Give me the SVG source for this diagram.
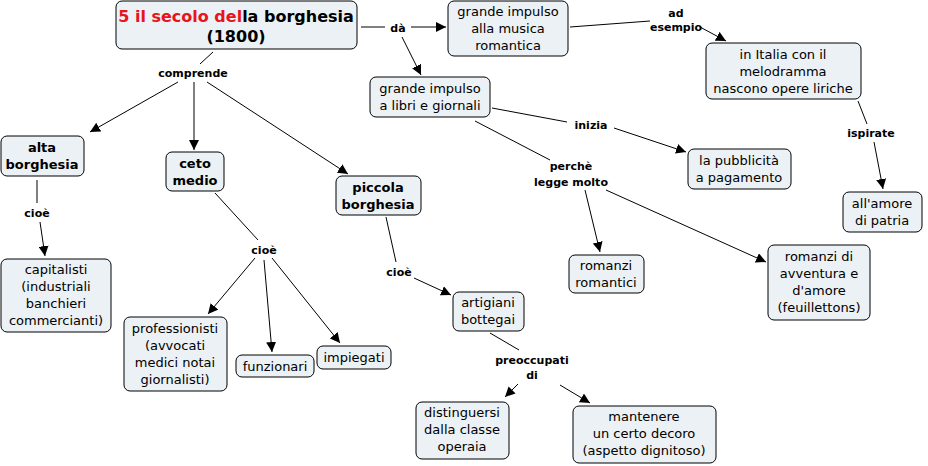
<svg xmlns="http://www.w3.org/2000/svg" width="928" height="466" viewBox="0 0 928 466">
<style>
.n rect{fill:#ebf1f4;stroke:#000;stroke-width:1}
text{font-family:"DejaVu Sans",Verdana,sans-serif;font-size:13px;text-anchor:middle;fill:#000}
.b{font-weight:bold}
.l{font-weight:bold;font-size:11px}
.c line{stroke:#000;stroke-width:1}
</style>
<defs><marker id="a" viewBox="0 0 10 10" refX="10" refY="5" markerWidth="10" markerHeight="10" markerUnits="userSpaceOnUse" orient="auto"><path d="M0,0L10,5L0,10z"/></marker></defs>
<g class="c">
<line x1="361" y1="27" x2="385" y2="27"/><line x1="411" y1="27" x2="446" y2="27" marker-end="url(#a)"/>
<line x1="402" y1="37" x2="421" y2="75" marker-end="url(#a)"/>
<line x1="570" y1="27" x2="650" y2="21"/><line x1="700" y1="27" x2="726" y2="41" marker-end="url(#a)"/>
<line x1="858" y1="101" x2="867" y2="124"/><line x1="874" y1="142" x2="883" y2="189" marker-end="url(#a)"/>
<line x1="213" y1="52" x2="200" y2="64"/>
<line x1="178" y1="82" x2="90" y2="132" marker-end="url(#a)"/><line x1="194" y1="82" x2="194" y2="150" marker-end="url(#a)"/><line x1="207" y1="82" x2="348" y2="174" marker-end="url(#a)"/>
<line x1="492" y1="108" x2="567" y2="122"/><line x1="614" y1="128" x2="686" y2="152" marker-end="url(#a)"/>
<line x1="475" y1="121" x2="550" y2="160"/><line x1="585" y1="190" x2="600" y2="252" marker-end="url(#a)"/><line x1="606" y1="190" x2="766" y2="262" marker-end="url(#a)"/>
<line x1="37" y1="180" x2="37" y2="203"/><line x1="40" y1="222" x2="45" y2="256" marker-end="url(#a)"/>
<line x1="215" y1="193" x2="258" y2="240"/><line x1="255" y1="258" x2="208" y2="314" marker-end="url(#a)"/><line x1="264" y1="260" x2="272" y2="352" marker-end="url(#a)"/><line x1="272" y1="258" x2="340" y2="343" marker-end="url(#a)"/>
<line x1="386" y1="217" x2="396" y2="262"/><line x1="414" y1="278" x2="451" y2="295" marker-end="url(#a)"/>
<line x1="490" y1="333" x2="519" y2="350"/><line x1="518" y1="384" x2="505" y2="397" marker-end="url(#a)"/><line x1="560" y1="385" x2="590" y2="403" marker-end="url(#a)"/>
</g>
<g class="lab">
<text class="l" x="398" y="32">dà</text>
<text class="l" x="676" y="17">ad</text><text class="l" x="676" y="31">esempio</text>
<text class="l" x="193" y="77">comprende</text>
<text class="l" x="591" y="129">inizia</text>
<text class="l" x="571" y="170">perchè</text><text class="l" x="571" y="186">legge molto</text>
<text class="l" x="871" y="137">ispirate</text>
<text class="l" x="37" y="217">cioè</text>
<text class="l" x="264" y="254">cioè</text>
<text class="l" x="399" y="276">cioè</text>
<text class="l" x="532" y="364">preoccupati</text><text class="l" x="532" y="379">di</text>
</g>
<g id="title" class="n"><rect x="116" y="1" width="241" height="48" rx="6"/><text class="b" style="font-size:16px" x="236" y="22"><tspan fill="#e8141b">5 il secolo del</tspan>la borghesia</text><text class="b" style="font-size:16px" x="236" y="42">(1800)</text></g>
<g id="musica" class="n"><rect x="448" y="1" width="120" height="55" rx="6"/><text x="508" y="16">grande impulso</text><text x="508" y="33">alla musica</text><text x="508" y="50">romantica</text></g>
<g id="italia" class="n"><rect x="706" y="43" width="155" height="56" rx="6"/><text x="783" y="59">in Italia con il</text><text x="783" y="76">melodramma</text><text x="783" y="93">nascono opere liriche</text></g>
<g id="libri" class="n"><rect x="370" y="77" width="120" height="40" rx="6"/><text x="430" y="93">grande impulso</text><text x="430" y="110">a libri e giornali</text></g>
<g id="alta" class="n"><rect x="1" y="136" width="83" height="40" rx="6"/><text class="b" x="42" y="152">alta</text><text class="b" x="42" y="169">borghesia</text></g>
<g id="ceto" class="n"><rect x="166" y="152" width="58" height="39" rx="6"/><text class="b" x="195" y="168">ceto</text><text class="b" x="195" y="185">medio</text></g>
<g id="piccola" class="n"><rect x="336" y="176" width="85" height="39" rx="6"/><text class="b" x="378" y="192">piccola</text><text class="b" x="378" y="209">borghesia</text></g>
<g id="pubblicita" class="n"><rect x="688" y="149" width="103" height="40" rx="6"/><text x="739" y="165">la pubblicità</text><text x="739" y="182">a pagamento</text></g>
<g id="amore" class="n"><rect x="843" y="192" width="79" height="40" rx="6"/><text x="882" y="208">all'amore</text><text x="882" y="225">di patria</text></g>
<g id="capitalisti" class="n"><rect x="1" y="259" width="110" height="73" rx="6"/><text x="56" y="274">capitalisti</text><text x="56" y="291">(industriali</text><text x="56" y="308">banchieri</text><text x="56" y="325">commercianti)</text></g>
<g id="romantici" class="n"><rect x="569" y="255" width="75" height="38" rx="6"/><text x="606" y="270">romanzi</text><text x="606" y="287">romantici</text></g>
<g id="avventura" class="n"><rect x="768" y="245" width="102" height="75" rx="6"/><text x="819" y="261">romanzi di</text><text x="819" y="278">avventura e</text><text x="819" y="295">d'amore</text><text x="819" y="312">(feuillettons)</text></g>
<g id="artigiani" class="n"><rect x="453" y="292" width="71" height="39" rx="6"/><text x="488" y="307">artigiani</text><text x="488" y="324">bottegai</text></g>
<g id="professionisti" class="n"><rect x="124" y="317" width="103" height="74" rx="6"/><text x="175" y="333">professionisti</text><text x="175" y="350">(avvocati</text><text x="175" y="367">medici notai</text><text x="175" y="384">giornalisti)</text></g>
<g id="funzionari" class="n"><rect x="236" y="355" width="78" height="22" rx="6"/><text x="275" y="371">funzionari</text></g>
<g id="impiegati" class="n"><rect x="317" y="346" width="74" height="23" rx="6"/><text x="354" y="362">impiegati</text></g>
<g id="distinguersi" class="n"><rect x="416" y="402" width="93" height="57" rx="6"/><text x="462" y="417">distinguersi</text><text x="462" y="434">dalla classe</text><text x="462" y="451">operaia</text></g>
<g id="mantenere" class="n"><rect x="573" y="406" width="143" height="57" rx="6"/><text x="644" y="421">mantenere</text><text x="644" y="438">un certo decoro</text><text x="644" y="455">(aspetto dignitoso)</text></g>
</svg>
